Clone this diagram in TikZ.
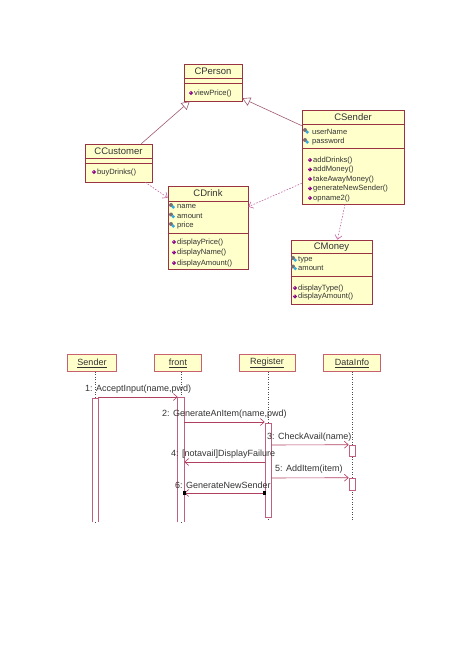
\documentclass[tikz,border=0pt]{standalone}
\usepackage{fontspec}
\setmainfont{Liberation Sans}
\usetikzlibrary{arrows.meta}

\definecolor{clsfill}{HTML}{FFFFCC}
\definecolor{clsline}{HTML}{993344}
\definecolor{genline}{HTML}{9E5A72}
\definecolor{depline}{HTML}{C060A0}
\definecolor{headline}{HTML}{C86070}
\definecolor{msgline}{HTML}{B04060}
\definecolor{actline}{HTML}{C06080}
\definecolor{opcol}{HTML}{8A0A8A}
\definecolor{attcol}{HTML}{30A8E0}
\definecolor{txtcol}{HTML}{333333}

\tikzset{
  clsbox/.style={draw=clsline, fill=clsfill, line width=0.6pt, inner sep=0pt},
  sepline/.style={draw=clsline, line width=0.6pt},
  clsname/.style={inner sep=0pt, text=txtcol, font=\fontsize{9.5}{10}\selectfont},
  member/.style={anchor=west, inner sep=0pt, text=txtcol, font=\fontsize{7.6}{8}\selectfont},
  gen/.style={draw=genline, line width=0.6pt, -{Triangle[open, length=8pt, width=9pt]}},
  dep/.style={draw=depline, line width=0.6pt, dash pattern=on 1.5pt off 1.5pt,
    -{Straight Barb[length=4pt, width=7pt]}},
  seqhead/.style={draw=headline, fill=clsfill, line width=0.6pt, inner sep=0pt,
    minimum height=17pt, text=txtcol, font=\fontsize{9}{10}\selectfont},
  lifeline/.style={draw=black!70, line width=0.6pt, dash pattern=on 1pt off 1.5pt},
  actbar/.style={draw=actline, fill=white, line width=0.6pt, inner sep=0pt, minimum width=6pt},
  msg/.style={draw=msgline, line width=0.6pt, -{Straight Barb[length=4pt, width=7pt]}},
  msglabel/.style={anchor=west, inner sep=0pt, text=txtcol, font=\fontsize{9}{10}\selectfont},
  opicon/.pic={
    \fill[opcol] (0,-2.2) -- (2.2,0) -- (0,2.2) -- (-2.2,0) -- cycle;
    \fill[magenta!50] (-0.8,-0.8) circle (0.6);},
  attricon/.pic={
    \fill[black!55] (-1,-1) circle (2);
    \fill[attcol] (1.3,-0.6) -- (3,1.1) -- (1.3,2.8) -- (-0.4,1.1) -- cycle;}
}

\begin{document}
\begin{tikzpicture}[x=1pt, y=-1pt]
\useasboundingbox (0,0) rectangle (474,670);

% class diagram
\node[clsbox, minimum width=58pt, minimum height=37pt] (person) at (213,82.5) {};
\node[clsbox, minimum width=67pt, minimum height=38pt] (customer) at (118.5,163) {};
\node[clsbox, minimum width=102pt, minimum height=94pt] (sender) at (353,157) {};
\node[clsbox, minimum width=80pt, minimum height=83pt] (drink) at (208,227.5) {};
\node[clsbox, minimum width=81pt, minimum height=64pt] (money) at (331.5,272) {};

\foreach \n/\y in {person/78, person/83, customer/158, customer/163, sender/124,
                   sender/148, drink/201, drink/233, money/253, money/276}
  \draw[sepline] (\n.west |- 0,\y) -- (\n.east |- 0,\y);

\node[clsname] (person-name) at (213,71) {CPerson};
\node[clsname] (customer-name) at (118.5,151) {CCustomer};
\node[clsname] (sender-name) at (353,117) {CSender};
\node[clsname] (drink-name) at (208,193.5) {CDrink};
\node[clsname] (money-name) at (331.5,247) {CMoney};

\pic at (191,93) {opicon};
\node[member] (person-op1) at (194,93.5) {viewPrice()};
\pic at (94,172) {opicon};
\node[member] (customer-op1) at (97,172.5) {buyDrinks()};

\foreach \att [count=\i] in {userName, password} {
  \pic at (306,121+10*\i) {attricon};
  \node[member] (sender-att\i) at (312,121.5+10*\i) {\att};
}
\foreach \op [count=\i] in {addDrinks(), addMoney(), takeAwayMoney(), generateNewSender(), opname2()} {
  \pic at (310,150.5+9.5*\i) {opicon};
  \node[member] (sender-op\i) at (313,151+9.5*\i) {\op};
}
\foreach \att [count=\i] in {name, amount, price} {
  \pic at (172,196.5+9.5*\i) {attricon};
  \node[member] (drink-att\i) at (177,197+9.5*\i) {\att};
}
\foreach \op [count=\i] in {displayPrice(), displayName(), displayAmount()} {
  \pic at (174,231.5+10.5*\i) {opicon};
  \node[member] (drink-op\i) at (177,232+10.5*\i) {\op};
}
\foreach \att [count=\i] in {type, amount} {
  \pic at (294,250.5+8.5*\i) {attricon};
  \node[member] (money-att\i) at (298,251+8.5*\i) {\att};
}
\foreach \op [count=\i] in {displayType(), displayAmount()} {
  \pic at (295,279.5+8.5*\i) {opicon};
  \node[member] (money-op\i) at (298,280+8.5*\i) {\op};
}

\draw[gen] ([xshift=-11pt]customer.north east) -- ([xshift=6pt]person.south west);
\draw[gen] ([yshift=-16pt]sender.north west) -- ([yshift=3pt]person.south east);
\draw[dep] ([xshift=-7pt]customer.south east) -- ([yshift=-12pt]drink.north west);
\draw[dep] ([yshift=21pt]sender.south west) -- ([yshift=-21pt]drink.north east);
\draw[dep] ([xshift=-8pt]sender.south) -- ([xshift=6pt]money.north);

% sequence diagram
\node[seqhead, minimum width=49pt] (hsender) at (92,363) {\underline{Sender}};
\node[seqhead, minimum width=47pt] (hfront) at (178,363) {\underline{front}};
\node[seqhead, minimum width=56pt] (hregister) at (267,363) {\underline{Register}};
\node[seqhead, minimum width=57pt] (hdata) at (352,363) {\underline{DataInfo}};

\coordinate (endsender) at (95.5,522);
\coordinate (endfront) at (181,522);
\coordinate (endregister) at (268,521);
\coordinate (enddata) at (352,521);

\draw[lifeline] (hsender.south -| endsender) -- (endsender);
\draw[lifeline] (hfront.south -| endfront) -- (endfront);
\draw[lifeline] (hregister.south -| endregister) -- (endregister);
\draw[lifeline] (hdata.south) -- (enddata);

% open bars run off the bottom
\node[actbar, draw=none, minimum width=5pt, minimum height=123pt] (asender) at (95.5,460.5) {};
\draw[actline, line width=0.6pt] (asender.south west) -- (asender.north west)
  -- (asender.north east) -- (asender.south east);
\node[actbar, draw=none, minimum height=124pt] (afront) at (181,460) {};
\draw[actline, line width=0.6pt] (afront.south west) -- (afront.north west)
  -- (afront.north east) -- (afront.south east);
\node[actbar, minimum height=94pt] (aregister) at (268,470) {};
\node[actbar, minimum height=11pt] (adata1) at (352,450.5) {};
\node[actbar, minimum height=12pt] (adata2) at (352,484) {};

\draw[msg] (asender.east |- 0,397) -- (afront.west |- 0,397);
\draw[msg] (afront.east |- 0,422) -- (aregister.west |- 0,422);
\draw[msg] (aregister.east |- 0,445) -- (adata1.north west);
\draw[msg] (aregister.west |- 0,462) -- (afront.east |- 0,462);
\draw[msg] (aregister.east |- 0,478) -- (adata2.north west);
\coordinate (m6start) at (aregister.west |- 0,493);
\coordinate (m6end) at (afront.east |- 0,493);
\draw[msg] (m6start) -- (m6end);
\fill (m6start) +(-1.6,-1.6) rectangle +(1.6,1.6);
\fill (m6end) +(-1.6,-1.6) rectangle +(1.6,1.6);

\node[msglabel] (lbl1) at (85,389) {1: AcceptInput(name,pwd)};
\node[msglabel] (lbl2) at (162,414) {2: GenerateAnItem(name,pwd)};
\node[msglabel] (lbl3) at (267,437) {3: CheckAvail(name)};
\node[msglabel] (lbl4) at (171,454) {4: [notavail]DisplayFailure};
\node[msglabel] (lbl5) at (275,469.5) {5: AddItem(item)};
\node[msglabel] (lbl6) at (175,485.5) {6: GenerateNewSender};
\end{tikzpicture}
\end{document}
